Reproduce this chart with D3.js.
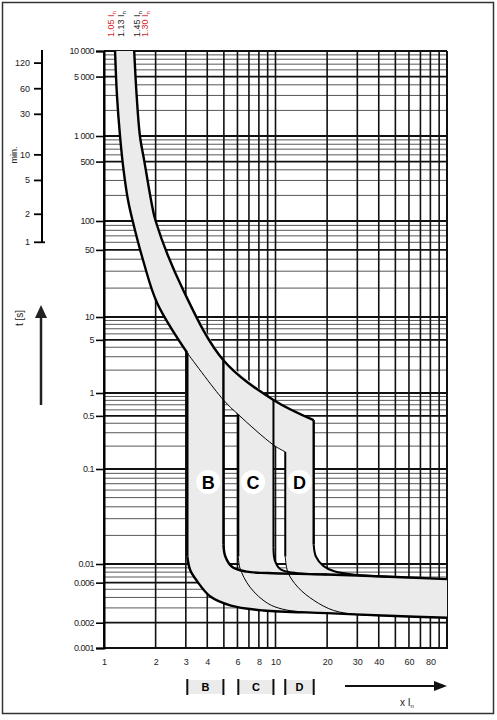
<!DOCTYPE html>
<html><head><meta charset="utf-8">
<script src="https://cdn.jsdelivr.net/npm/d3@7"></script>
<style>body{margin:0;background:#fff}text{font-family:"Liberation Sans",Arial,sans-serif}</style>
</head><body><svg id="c" width="497" height="720"></svg>
<script>
const yTickVals=[10000,5000,1000,500,100,50,10,5,1,0.5,0.1,0.01,0.006,0.002,0.001];
const yTickLabels=["10 000","5 000","1 000","500","100","50","10","5","1","0.5","0.1","0.01","0.006","0.002","0.001"];
const xTickVals=[1,2,3,4,6,8,10,20,30,40,60,80];
const minTicks=[120,60,30,10,5,2,1];
const topLabels=[{v:"1.05",c:"#d22"},{v:"1.13",c:"#222"},{v:"1.45",c:"#222"},{v:"1.30",c:"#d22"}];
const topX=[1.1,1.26,1.55,1.74];
// thermal curves (x multiple of In, t seconds)
const leftCurve=[[1.16,10000],[1.19,3000],[1.24,1000],[1.3,400],[1.38,177],[1.47,100],[1.69,39],[2.04,14],[3.06,3.36]];
const leftThin=[[3.06,3.36],[4.97,0.81],[6.07,0.52],[9.73,0.207],[11.4,0.168]];
const rightCurve=[[1.5,10000],[1.55,3000],[1.62,1000],[1.72,500],[1.88,177],[2.0,100],[2.9,19],[4.97,2.7],[9.73,0.81],[16.7,0.44]];
const lowerB=[[3.06,0.012],[3.18,0.0085],[3.5,0.0062],[4.17,0.0041],[5.5,0.0032],[8.5,0.0028],[20,0.0026],[50,0.0024],[100,0.00229]];
const lowerC=[[6.07,0.012],[6.2,0.009],[7.1,0.0053],[9,0.0034],[11,0.0029],[14,0.0027],[20,0.0026]];
const lowerD=[[11.4,0.012],[11.8,0.008],[13.5,0.0053],[16.7,0.0037],[21.8,0.0028],[30,0.0025],[50,0.0024]];
const upperB=[[4.97,0.016],[5.1,0.012],[5.6,0.0092],[6.8,0.0081],[9,0.0078],[20,0.0075],[50,0.007],[100,0.0066]];
const upperC=[[9.73,0.015],[9.9,0.011],[10.6,0.0088],[12.5,0.0079],[20,0.0075]];
const upperD=[[16.7,0.016],[17.2,0.012],[19,0.0095],[22,0.0082],[30,0.0074],[50,0.007]];
const bandLetters=[{l:"B",x:4.05},{l:"C",x:7.4},{l:"D",x:13.8}];
const bandRanges=[{l:"B",a:3.06,b:4.97},{l:"C",a:6.07,b:9.73},{l:"D",a:11.4,b:16.7}];

const svg=d3.select("#c");
const x=d3.scaleLog().domain([1,100]).range([104,447]);
const y=d3.scaleLog().domain([0.001,0.01,0.1,1,10,100,1000,10000]).range([648,564,469,393,317,221,136,51]);
svg.append("rect").attr("x",2.5).attr("y",2.5).attr("width",491).attr("height",711).attr("fill","none").attr("stroke","#333").attr("stroke-width",1.5);

const g=svg.append("g");
const hv=[];for(let e=-3;e<4;e++)for(let k=1;k<10;k++)hv.push(k*Math.pow(10,e));hv.push(10000);
hv.forEach(v=>{const major=yTickVals.includes(v);
 g.append("line").attr("x1",104).attr("x2",447).attr("y1",y(v)).attr("y2",y(v)).attr("stroke",major?"#111":"#444").attr("stroke-width",major?1.8:0.9);});
const vv=[1,2,3,4,5,6,7,8,9,10,20,30,40,50,60,70,80,90,100];
vv.forEach(v=>g.append("line").attr("x1",x(v)).attr("x2",x(v)).attr("y1",51).attr("y2",649).attr("stroke","#111").attr("stroke-width",v==1||v==100?2:1.6));

const line=d3.line().x(d=>x(d[0])).y(d=>y(d[1])).curve(d3.curveCatmullRom.alpha(0.5));
const L=pts=>line(pts);
const rev=a=>a.slice().reverse();
const poly=segs=>segs.map((s,i)=>i?line(s).replace(/^M/,"L"):line(s)).join("")+"Z";
const fill="#ebebeb";
const lowerTail=[[50,0.0024],[100,0.00229]];
g.append("path").attr("fill",fill).attr("d",poly([leftCurve,[[3.06,3.36],[3.06,0.012]],lowerB,[[100,0.00229],[100,0.0066]],rev(upperB),[[4.97,0.016],[4.97,2.7]],rev(rightCurve.slice(0,8))]));
g.append("path").attr("fill",fill).attr("d",poly([leftThin.slice(1,3),[[6.07,0.52],[6.07,0.012]],lowerC.concat(lowerTail),[[100,0.00229],[100,0.0066]],rev(upperC.concat([[50,0.007],[100,0.0066]])),[[9.73,0.015],[9.73,0.81]],rev(rightCurve.slice(7,9))]));
g.append("path").attr("fill",fill).attr("d",poly([leftThin.slice(3),[[11.4,0.168],[11.4,0.012]],lowerD.concat([[100,0.00229]]),[[100,0.00229],[100,0.0066]],rev(upperD.concat([[100,0.0066]])),[[16.7,0.016],[16.7,0.44]],rev(rightCurve.slice(8))]));

const thick=(d,w)=>g.append("path").attr("d",d).attr("fill","none").attr("stroke","#000").attr("stroke-width",w||2.4);
thick(L(leftCurve));thick(L([[3.06,3.36],[3.06,0.012]]));thick(L(lowerB));
thick(L(leftThin),1);thick(L(lowerC),1);thick(L(lowerD),1);
thick(L([[6.07,0.52],[6.07,0.012]]),2);thick(L([[11.4,0.168],[11.4,0.012]]),2);
thick(L(rightCurve));
thick(L([[4.97,2.7],[4.97,0.016]]));thick(L(upperB));
thick(L([[9.73,0.81],[9.73,0.015]]),2);thick(L(upperC),2);
thick(L([[16.7,0.44],[16.7,0.016]]));thick(L(upperD),2);

bandLetters.forEach(b=>{const cx=x(b.x),cy=482;
 g.append("circle").attr("cx",cx).attr("cy",cy).attr("r",12).attr("fill","#fff");
 g.append("text").attr("x",cx).attr("y",cy+6.5).attr("text-anchor","middle").attr("font-size",18).attr("font-weight","bold").text(b.l);});

const ya=svg.append("g").attr("transform","translate(104,0)").call(d3.axisLeft(y).tickValues(yTickVals).tickFormat((d,i)=>yTickLabels[i]).tickSize(8).tickPadding(2));
ya.select(".domain").attr("stroke-width",2);ya.selectAll(".tick line").attr("stroke-width",1.6);
ya.selectAll("text").attr("font-size",9).attr("fill","#222").attr("letter-spacing","-0.5");
const xa=svg.append("g").attr("transform","translate(0,649)").call(d3.axisBottom(x).tickValues(xTickVals).tickFormat(d3.format("d")).tickSize(0).tickPadding(10));
xa.select(".domain").remove();xa.selectAll("text").attr("font-size",9).attr("fill","#222");
const ma=svg.append("g").attr("transform","translate(42,0)");
ma.append("line").attr("x1",0).attr("x2",0).attr("y1",50).attr("y2",y(60)).attr("stroke","#000").attr("stroke-width",2);
minTicks.forEach(m=>{ma.append("line").attr("x1",-8).attr("x2",m==1?3:0).attr("y1",y(m*60)).attr("y2",y(m*60)).attr("stroke","#000").attr("stroke-width",1.8);
 ma.append("text").attr("x",-12).attr("y",y(m*60)+3).attr("text-anchor","end").attr("font-size",9).attr("fill","#222").text(m);});
svg.append("text").attr("transform","translate(17,155) rotate(-90)").attr("text-anchor","middle").attr("font-size",9).attr("fill","#222").text("min.");
svg.append("text").attr("transform","translate(23,318) rotate(-90)").attr("text-anchor","middle").attr("font-size",10).attr("fill","#222").text("t [s]");
svg.append("line").attr("x1",41).attr("x2",41).attr("y1",405).attr("y2",316).attr("stroke","#222").attr("stroke-width",2.5);
svg.append("path").attr("d","M35,318 L41,305 L47,318Z").attr("fill","#222");
topLabels.forEach((t,i)=>{const tx=svg.append("text").attr("transform",`translate(${x(topX[i])+3},37) rotate(-90)`).attr("font-size",9).attr("fill",t.c);
 tx.append("tspan").text(t.v+" I");tx.append("tspan").attr("font-size",6).attr("dy",2).text("n");});
bandRanges.forEach(b=>{const a=x(b.a),c=x(b.b);
 svg.append("rect").attr("x",a).attr("y",680).attr("width",c-a).attr("height",14).attr("fill","#ebebeb");
 [a,c].forEach(p=>svg.append("line").attr("x1",p).attr("x2",p).attr("y1",679).attr("y2",695).attr("stroke","#111").attr("stroke-width",2));
 svg.append("text").attr("x",(a+c)/2).attr("y",691).attr("text-anchor","middle").attr("font-size",11).attr("font-weight","bold").text(b.l);});
svg.append("line").attr("x1",345).attr("x2",436).attr("y1",686).attr("y2",686).attr("stroke","#111").attr("stroke-width",2);
svg.append("path").attr("d","M434,681 L447,686 L434,691Z").attr("fill","#111");
const xl=svg.append("text").attr("x",400).attr("y",706).attr("font-size",10).attr("fill","#222");
xl.append("tspan").text("x I");xl.append("tspan").attr("font-size",6).attr("dy",2).text("n");
</script></body></html>
